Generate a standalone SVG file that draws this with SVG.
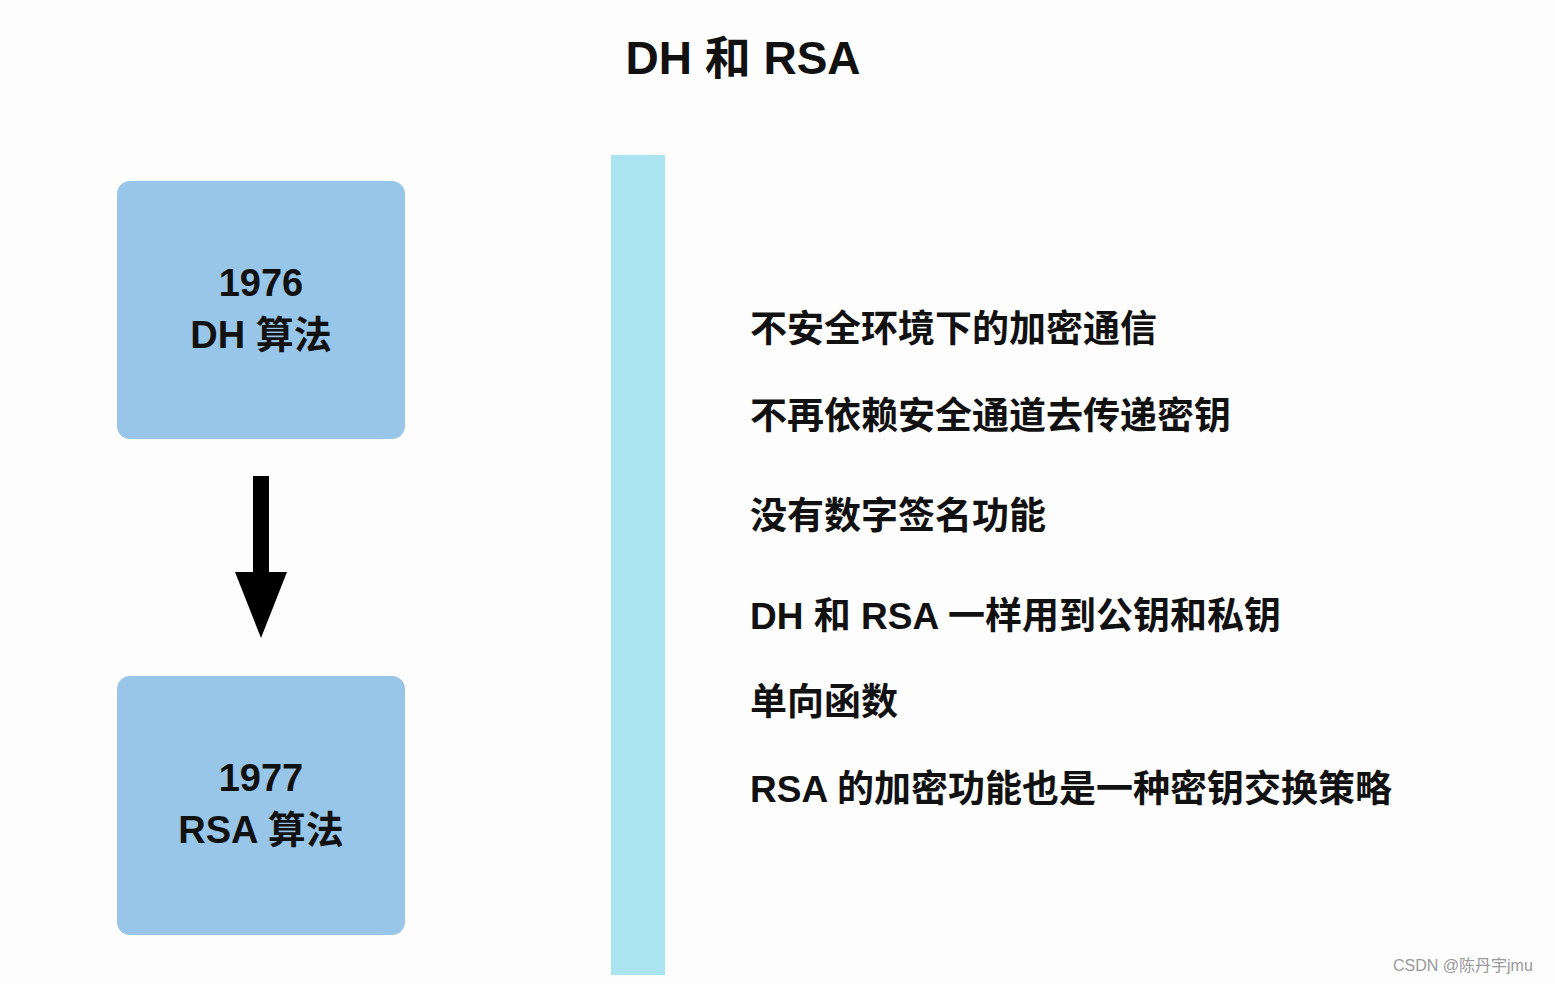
<svg xmlns="http://www.w3.org/2000/svg" width="1555" height="984" viewBox="0 0 1555 984">
<style>
text{font-family:"Liberation Sans","Noto Sans CJK SC",sans-serif;fill:#111}
.box{fill:#98c6e8}
.bt{font-size:38px;font-weight:bold;text-anchor:middle}
.it{font-size:37px;font-weight:bold}
</style>
<rect width="1555" height="984" fill="#fdfdfd"/>
<text x="743" y="74" font-size="46" font-weight="bold" text-anchor="middle">DH 和 RSA</text>
<g id="dh"><rect class="box" x="117" y="181" width="288" height="258" rx="13"/>
<text class="bt" x="261" y="296">1976</text><text class="bt" x="261" y="348">DH 算法</text></g>
<g id="rsa"><rect class="box" x="117" y="676" width="288" height="259" rx="13"/>
<text class="bt" x="261" y="791">1977</text><text class="bt" x="261" y="843">RSA 算法</text></g>
<g id="connectors"><path d="M253 476H269V572H287L261 638L235 572H253Z" fill="#000"/></g>
<g id="bar"><rect x="611" y="155" width="54" height="820" fill="#a9e4f0"/></g>
<g id="notes">
<text class="it" x="750" y="342">不安全环境下的加密通信</text>
<text class="it" x="750" y="429">不再依赖安全通道去传递密钥</text>
<text class="it" x="750" y="529">没有数字签名功能</text>
<text class="it" x="750" y="629">DH 和 RSA 一样用到公钥和私钥</text>
<text class="it" x="750" y="715">单向函数</text>
<text class="it" x="750" y="802">RSA 的加密功能也是一种密钥交换策略</text>
</g>
<text x="1393" y="971" font-size="16" style="fill:#999">CSDN @陈丹宇jmu</text>
</svg>
